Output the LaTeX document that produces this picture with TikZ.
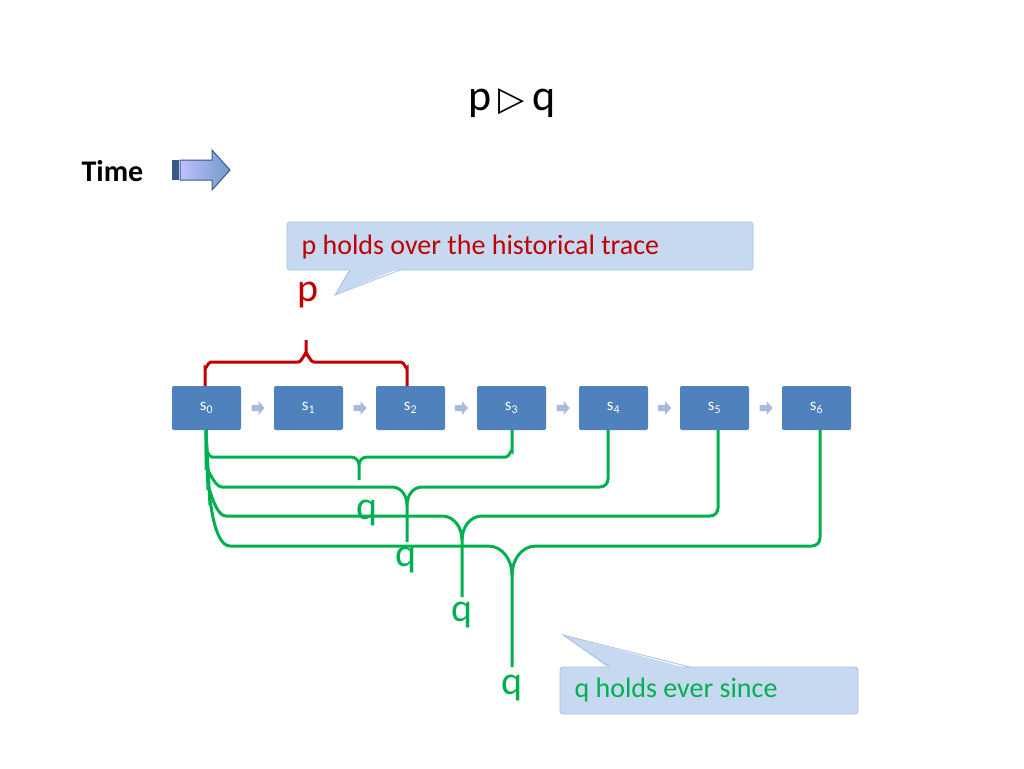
\documentclass[tikz,border=0pt]{standalone}
\usepackage{fontspec}
\setmainfont{Carlito}
\newfontfamily\symf{DejaVu Sans}
\begin{document}
\begin{tikzpicture}[x=1pt,y=-1pt,
  st/.style={fill=boxb,draw=none,rounded corners=2pt,minimum width=69pt,minimum height=44pt,text=white,font=\fontsize{17}{17}\selectfont,inner sep=0pt},
  sm/.style={fill=arr,draw=none},
  gb/.style={draw=gr,line width=3pt},
  call/.style={fill=cfill,draw=cdraw,line width=0.8pt,rounded corners=3pt}]
\definecolor{boxb}{HTML}{4F81BD}
\definecolor{arr}{HTML}{A7BCDB}
\definecolor{gr}{HTML}{00B050}
\definecolor{rd}{HTML}{C00000}
\definecolor{cfill}{HTML}{C6D9F1}
\definecolor{cdraw}{HTML}{A8C0E0}
\useasboundingbox (0,0) rectangle (1024,768);
\node (title) at (512,103) {\fontsize{44}{44}\selectfont p\,{\symf\fontsize{34}{34}\selectfont ▷}\,q};
\node[anchor=west,font=\bfseries\fontsize{30}{30}\selectfont] (time) at (78,171) {Time};
\shade[left color=blue!25!white,right color=boxb!80,draw=boxb!70!black,line width=1pt] (180,160)--(212,160)--(212,150)--(230,170)--(212,190)--(212,180)--(180,180)--cycle;
\fill[boxb!70!black] (172,160) rectangle (179,180);
% states
\foreach \i/\x in {0/206.5,1/308.5,2/410.5,3/511.5,4/613.5,5/714.5,6/816.5}{
  \node[st] (s\i) at (\x,408) {s\textsubscript{\i}};}
\foreach \a/\b in {0/1,1/2,2/3,3/4,4/5,5/6}{
  \path (s\a.east) -- (s\b.west) coordinate[midway] (m\a);
  \fill[arr] ([xshift=-6pt,yshift=-3pt]m\a) -- ([xshift=1pt,yshift=-3pt]m\a) -- ([xshift=1pt,yshift=-7pt]m\a) -- ([xshift=7pt]m\a) -- ([xshift=1pt,yshift=7pt]m\a) -- ([xshift=1pt,yshift=3pt]m\a) -- ([xshift=-6pt,yshift=3pt]m\a) -- cycle;}
% red brace
\draw[draw=rd,line width=3pt] (205,386) -- (205,368) to[out=-90,in=180] (211,362) -- (298,362) to[out=0,in=90] (306,354) -- (306,340);
\draw[draw=rd,line width=3pt] (306,354) to[out=90,in=180] (314,362) -- (401,362) to[out=0,in=-90] (407,368) -- (407,386);
\node[text=rd,font=\fontsize{40}{40}\selectfont] (p) at (308,295) {p};
% green braces
\coordinate (b0) at (206,430);
\draw[gb] (b0) -- (206,451) to[out=90,in=180] (212,457) -- (351,457) to[out=0,in=90] (359,465) -- (359,480);
\draw[gb] (359,465) to[out=90,in=180] (367,457) -- (506,457) to[out=0,in=90] (512,451) -- (s3.south -| 512,430);
\draw[gb] (b0) -- (206,470) to[out=90,in=180] (222,487) -- (392,487) to[out=0,in=90] (407,505) -- (407,542);
\draw[gb] (407,505) to[out=90,in=180] (422,487) -- (600,487) to[out=0,in=-90] (608,479) -- (608,430);
\draw[gb] (b0) -- (208,490) to[out=90,in=180] (226,516) -- (442,516) to[out=0,in=90] (462,540) -- (462,597);
\draw[gb] (462,540) to[out=90,in=180] (482,516) -- (710,516) to[out=0,in=-90] (718,508) -- (718,430);
\draw[gb] (b0) -- (210,505) to[out=90,in=180] (230,546) -- (488,546) to[out=0,in=90] (512,575) -- (512,667);
\draw[gb] (512,575) to[out=90,in=180] (536,546) -- (812,546) to[out=0,in=-90] (820,538) -- (820,430);
\foreach \n/\x/\y in {q1/367/513,q2/406/560,q3/462/615,q4/512/688}{
  \node[text=gr,font=\fontsize{40}{40}\selectfont] (\n) at (\x,\y) {q};}
% callouts
\draw[call] (287,222) rectangle (753,270);
\fill[cfill] (350,268) -- (335,295) -- (400,268) -- cycle;
\draw[cdraw,line width=0.8pt] (350,270) -- (335,295) -- (400,270);
\node[anchor=west,text=rd,font=\fontsize{28}{28}\selectfont] (c1) at (298,247) {p holds over the historical trace};
\draw[call] (560,667) rectangle (858,714);
\fill[cfill] (610,669) -- (563,635) -- (690,669) -- cycle;
\draw[cdraw,line width=0.8pt] (610,667) -- (563,635) -- (690,667);
\node[anchor=west,text=gr,font=\fontsize{28}{28}\selectfont] (c2) at (571,690) {q holds ever since};
\end{tikzpicture}
\end{document}
